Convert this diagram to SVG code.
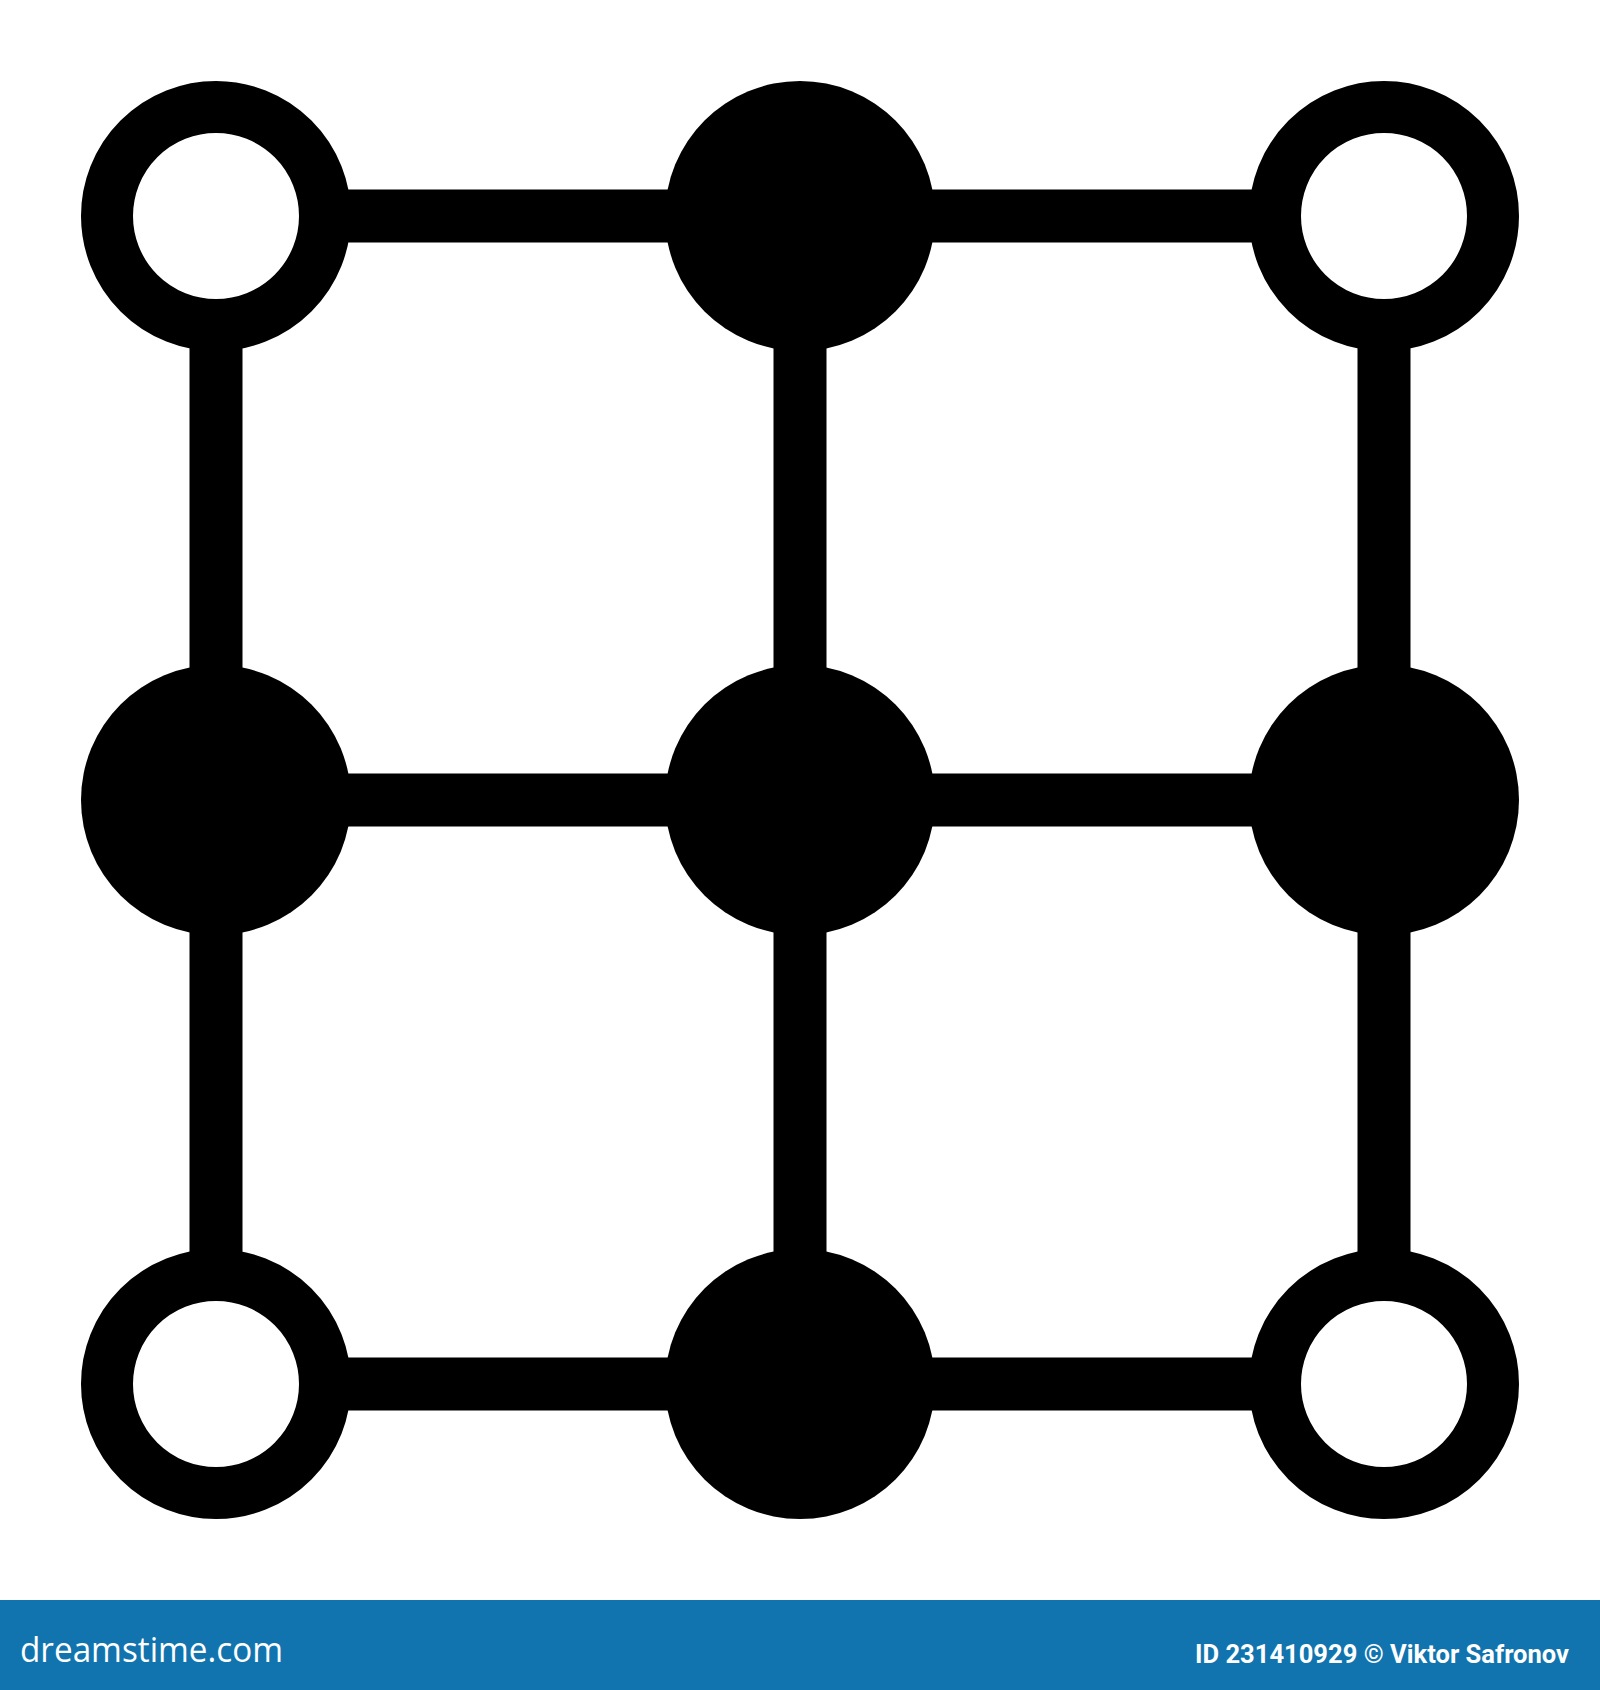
<svg xmlns="http://www.w3.org/2000/svg" width="1600" height="1690" viewBox="0 0 1600 1690">
<style>
.edge{stroke:#000;stroke-width:53;fill:none}
.solid{fill:#000}
.ring{fill:#fff;stroke:#000;stroke-width:52}
.logo{font-family:"Open Sans","DejaVu Sans",sans-serif;fill:#fff}
.credit{font-family:Roboto,"Liberation Sans",sans-serif;font-weight:bold;fill:#fff}
</style>
<rect x="0" y="0" width="1600" height="1690" fill="#fff"/>
<g id="connectors">
<line class="edge" x1="216" y1="216" x2="1384" y2="216"/>
<line class="edge" x1="216" y1="800" x2="1384" y2="800"/>
<line class="edge" x1="216" y1="1384" x2="1384" y2="1384"/>
<line class="edge" x1="216" y1="216" x2="216" y2="1384"/>
<line class="edge" x1="800" y1="216" x2="800" y2="1384"/>
<line class="edge" x1="1384" y1="216" x2="1384" y2="1384"/>
</g>
<g id="n-top-left"><circle class="ring" cx="216" cy="216" r="109"/></g>
<g id="n-top-mid"><circle class="solid" cx="800" cy="216" r="135"/></g>
<g id="n-top-right"><circle class="ring" cx="1384" cy="216" r="109"/></g>
<g id="n-mid-left"><circle class="solid" cx="216" cy="800" r="135"/></g>
<g id="n-center"><circle class="solid" cx="800" cy="800" r="135"/></g>
<g id="n-mid-right"><circle class="solid" cx="1384" cy="800" r="135"/></g>
<g id="n-bot-left"><circle class="ring" cx="216" cy="1384" r="109"/></g>
<g id="n-bot-mid"><circle class="solid" cx="800" cy="1384" r="135"/></g>
<g id="n-bot-right"><circle class="ring" cx="1384" cy="1384" r="109"/></g>
<g id="footer">
<rect x="0" y="1600" width="1600" height="90" fill="#1174ae"/>
<text class="logo" x="20" y="1662" font-size="34" textLength="263" lengthAdjust="spacingAndGlyphs">dreamstime.com</text>
<text class="credit" x="1195" y="1663" font-size="25" textLength="374" lengthAdjust="spacingAndGlyphs">ID 231410929 © Viktor Safronov</text>
</g>
</svg>
